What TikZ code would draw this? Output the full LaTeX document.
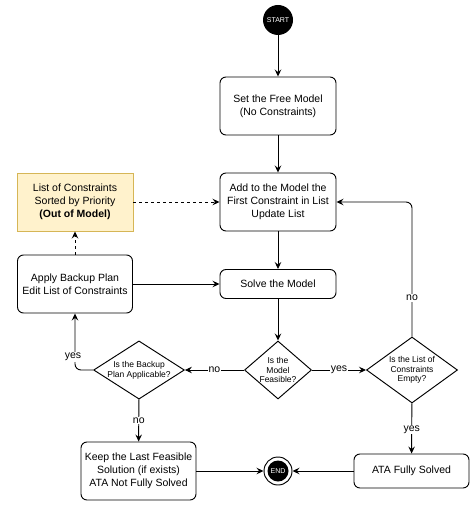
\documentclass[tikz,border=0pt]{standalone}
\usepackage{fontspec}
\setmainfont{Liberation Sans}
\usetikzlibrary{shapes.geometric,arrows.meta}
\definecolor{noteFill}{HTML}{FFF2CC}
\definecolor{noteLine}{HTML}{D6B656}
\tikzset{
  base/.style={line width=0.95pt},
  procbox/.style={base, draw, rounded corners=6pt, align=center, inner sep=0pt,
    font=\fontsize{10.5}{13}\selectfont},
  notebox/.style={base, draw=noteLine, fill=noteFill, align=center, inner sep=0pt,
    font=\fontsize{10.5}{13}\selectfont},
  decide/.style={base, draw, diamond, align=center, inner sep=0pt,
    font=\fontsize{8.5}{9.7}\selectfont},
  term/.style={circle, fill=black, text=white, inner sep=0pt,
    font=\fontsize{7}{8}\selectfont},
  flow/.style={base, -{Stealth[length=7pt,width=6.5pt,inset=2.5pt]}},
  dflow/.style={flow, dash pattern=on 3pt off 3pt},
  lbl/.style={fill=white, inner sep=1pt, font=\fontsize{10.5}{12}\selectfont}
}
\begin{document}
\begin{tikzpicture}[x=1pt,y=-1pt]
\useasboundingbox (0,0) rectangle (474,505);

\node[term, minimum size=30pt] (start) at (278,20) {START};
\node[procbox, minimum width=116pt, minimum height=58pt] (free) at (278,106)
  {Set the Free Model\\(No Constraints)};
\node[procbox, minimum width=116pt, minimum height=58pt] (add) at (278,202)
  {Add to the Model the\\First Constraint in List\\Update List};
\node[notebox, minimum width=116pt, minimum height=58pt] (list) at (75,202)
  {List of Constraints\\Sorted by Priority\\\textbf{(Out of Model)}};
\node[procbox, minimum width=115pt, minimum height=58pt] (apply) at (75,284)
  {Apply Backup Plan\\Edit List of Constraints};
\node[procbox, minimum width=116pt, minimum height=29pt] (solve) at (278,284)
  {Solve the Model};
\node[decide, aspect=1.15, minimum width=67pt, minimum height=58pt] (feas) at (278,370)
  {Is the\\Model\\Feasible?};
\node[decide, aspect=1.56, minimum width=89pt, minimum height=57pt] (backup) at (139,370)
  {Is the Backup\\Plan Applicable?};
\node[decide, aspect=1.38, minimum width=91pt, minimum height=66pt] (empty) at (412,370)
  {Is the List of\\Constraints\\Empty?};
\node[procbox, minimum width=115pt, minimum height=58pt] (keep) at (138.5,471)
  {Keep the Last Feasible\\Solution (if exists)\\ATA Not Fully Solved};
\node[procbox, minimum width=115pt, minimum height=34pt] (ata) at (411.5,471)
  {ATA Fully Solved};
\node[circle, draw, base, fill=white, minimum size=28pt, inner sep=0pt] (endn) at (278,471) {};
\node[term, minimum size=21pt] (endin) at (endn.center) {END};

\coordinate (rt) at (412,202);
\coordinate (lt) at (75,370);

\draw[flow] (start) -- (free);
\draw[flow] (free) -- (add);
\draw[flow] (add) -- (solve);
\draw[flow] (solve) -- (feas);
\draw[flow] (apply) -- (solve);
\draw[dflow] (list) -- (add);
\draw[dflow] (apply) -- (list);
\draw[flow] (feas) -- node[lbl] {no} (backup);
\draw[flow] (feas) -- node[lbl] {yes} (empty);
\draw[flow, rounded corners=6pt] (empty.north) -- (rt) -- (add.east);
\node[lbl] (nolbl) at (412,298) {no};
\draw[flow, rounded corners=6pt] (backup.west) -- (lt) -- (apply.south);
\node[lbl] (yeslbl) at (73,357) {yes};
\draw[flow] (backup) -- node[lbl] {no} (keep);
\draw[flow] (empty) -- node[lbl, pos=0.52] {yes} (ata);
\draw[flow] (keep) -- (endn);
\draw[flow] (ata) -- (endn);
\end{tikzpicture}
\end{document}
